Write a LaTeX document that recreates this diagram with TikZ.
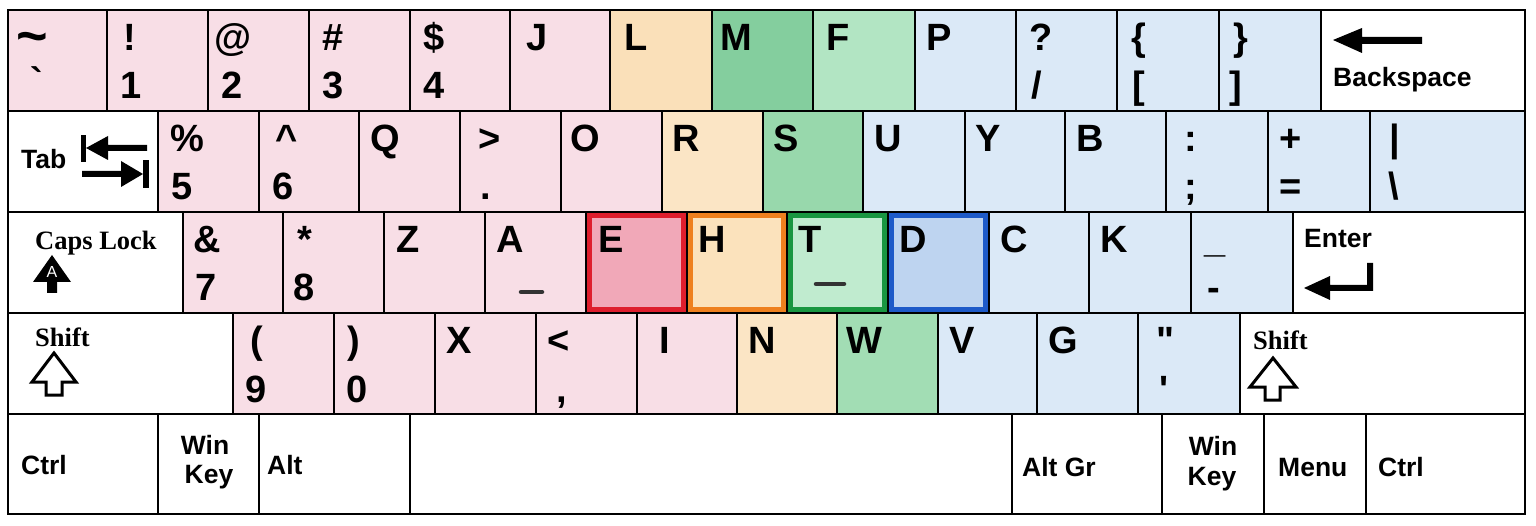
\documentclass[tikz,border=0pt]{standalone}
\usepackage{fontspec}
\setmainfont{Liberation Sans}
\newfontfamily\serifb{Liberation Serif}
\usetikzlibrary{calc}
\definecolor{pinkf}{RGB}{248,222,230}
\definecolor{Efill}{RGB}{241,168,184}
\definecolor{Eline}{RGB}{222,30,45}
\definecolor{orangef}{RGB}{251,229,197}
\definecolor{Lfill}{RGB}{250,224,185}
\definecolor{Hfill}{RGB}{251,226,188}
\definecolor{Hline}{RGB}{238,128,30}
\definecolor{greenM}{RGB}{132,206,158}
\definecolor{greenF}{RGB}{178,229,195}
\definecolor{greenS}{RGB}{152,216,172}
\definecolor{greenW}{RGB}{162,221,180}
\definecolor{Tfill}{RGB}{192,235,207}
\definecolor{Tline}{RGB}{25,150,65}
\definecolor{bluef}{RGB}{219,233,247}
\definecolor{Dfill}{RGB}{190,212,240}
\definecolor{Dline}{RGB}{30,90,200}
\tikzset{
 keybox/.style={draw=black, line width=2.2pt, inner sep=0pt, outer sep=0pt, anchor=north west},
 big/.style={font=\fontsize{38}{38}\selectfont\bfseries, inner sep=0pt, anchor=base west},
 lab/.style={font=\fontsize{26.5}{32}\selectfont\bfseries, inner sep=0pt, anchor=base west},
 slab/.style={font=\serifb\fontsize{26.5}{32}\selectfont\bfseries, inner sep=0pt, anchor=base west},
 flat/.style={inner sep=0pt, anchor=base, text height=0pt, text depth=0pt},
 homeline/.style={line width=5pt},
 bump/.style={line width=4.5pt, line cap=round, draw=black!80},
 glyph/.style={fill=black, draw=none},
 hollow/.style={draw=black, line width=3pt, line join=miter, fill=white},
}
\newcommand\kb[6]{\node[keybox, fill=#6, minimum width={(#4-#2)*1pt}, minimum height={(#5-#3)*1pt}] (#1) at (#2,#3) {};}
\newcommand\tl[3][13]{\node[big] (#2t) at ($(#2.north west)+(#1,41)$) {#3};}
\newcommand\bl[3][13]{\node[big] (#2b) at ($(#2.north west)+(#1,89)$) {#3};}
\newcommand\homebox[2]{\draw[homeline, draw=#2] ($(#1.north west)+(3.6,3.6)$) rectangle ($(#1.south east)+(-3.6,-3.6)$);}
\begin{document}
\begin{tikzpicture}[x=1pt,y=-1pt]
\useasboundingbox (0,0) rectangle (1536,526);
\fill[white] (0,0) rectangle (1536,526);
% Row 1
\kb{kgrave}{8}{10}{107}{111}{pinkf}
\kb{k1}{107}{10}{208}{111}{pinkf}
\kb{k2}{208}{10}{309}{111}{pinkf}
\kb{k3}{309}{10}{410}{111}{pinkf}
\kb{k4}{410}{10}{510}{111}{pinkf}
\kb{kJ}{510}{10}{610}{111}{pinkf}
\kb{kL}{610}{10}{712}{111}{Lfill}
\kb{kM}{712}{10}{813}{111}{greenM}
\kb{kF}{813}{10}{915}{111}{greenF}
\kb{kP}{915}{10}{1016}{111}{bluef}
\kb{kslash}{1016}{10}{1117}{111}{bluef}
\kb{klbr}{1117}{10}{1219}{111}{bluef}
\kb{krbr}{1219}{10}{1321}{111}{bluef}
\kb{kback}{1321}{10}{1525}{111}{white}
% Row 2
\kb{ktab}{8}{111}{158}{212}{white}
\kb{k5}{158}{111}{259}{212}{pinkf}
\kb{k6}{259}{111}{359}{212}{pinkf}
\kb{kQ}{359}{111}{460}{212}{pinkf}
\kb{kdot}{460}{111}{561}{212}{pinkf}
\kb{kO}{561}{111}{662}{212}{pinkf}
\kb{kR}{662}{111}{763}{212}{orangef}
\kb{kS}{763}{111}{863}{212}{greenS}
\kb{kU}{863}{111}{965}{212}{bluef}
\kb{kY}{965}{111}{1065}{212}{bluef}
\kb{kB}{1065}{111}{1166}{212}{bluef}
\kb{ksemi}{1166}{111}{1268}{212}{bluef}
\kb{keq}{1268}{111}{1370}{212}{bluef}
\kb{kbsl}{1370}{111}{1525}{212}{bluef}
% Row 3
\kb{kcaps}{8}{212}{183}{313}{white}
\kb{k7}{183}{212}{283}{313}{pinkf}
\kb{k8}{283}{212}{384}{313}{pinkf}
\kb{kZ}{384}{212}{485}{313}{pinkf}
\kb{kA}{485}{212}{586}{313}{pinkf}
\kb{kE}{586}{212}{687}{313}{Efill}
\kb{kH}{687}{212}{787}{313}{Hfill}
\kb{kT}{787}{212}{888}{313}{Tfill}
\kb{kD}{888}{212}{989}{313}{Dfill}
\kb{kC}{989}{212}{1089}{313}{bluef}
\kb{kK}{1089}{212}{1191}{313}{bluef}
\kb{kminus}{1191}{212}{1293}{313}{bluef}
\kb{kenter}{1293}{212}{1525}{313}{white}
% Row 4
\kb{kshl}{8}{313}{233}{414}{white}
\kb{k9}{233}{313}{334}{414}{pinkf}
\kb{k0}{334}{313}{435}{414}{pinkf}
\kb{kX}{435}{313}{536}{414}{pinkf}
\kb{kcomma}{536}{313}{637}{414}{pinkf}
\kb{kI}{637}{313}{737}{414}{pinkf}
\kb{kN}{737}{313}{837}{414}{orangef}
\kb{kW}{837}{313}{938}{414}{greenW}
\kb{kV}{938}{313}{1037}{414}{bluef}
\kb{kG}{1037}{313}{1138}{414}{bluef}
\kb{kquote}{1138}{313}{1240}{414}{bluef}
\kb{kshr}{1240}{313}{1525}{414}{white}
% Row 5
\kb{kctl}{8}{414}{158}{514}{white}
\kb{kwinl}{158}{414}{259}{514}{white}
\kb{kalt}{259}{414}{410}{514}{white}
\kb{kspace}{410}{414}{1012}{514}{white}
\kb{kaltgr}{1012}{414}{1162}{514}{white}
\kb{kwinr}{1162}{414}{1264}{514}{white}
\kb{kmenu}{1264}{414}{1366}{514}{white}
\kb{kctr}{1366}{414}{1525}{514}{white}
% home keys
\homebox{kE}{Eline}
\homebox{kH}{Hline}
\homebox{kT}{Tline}
\homebox{kD}{Dline}
% bumps
\draw[bump] ($(kA.north west)+(36,80)$) -- ++(21,0);
\draw[bump] ($(kT.north west)+(29,72)$) -- ++(28,0);
% Row 1 labels
\node[flat, font=\fontsize{54}{54}\selectfont\bfseries] (kgravet) at ($(kgrave.north west)+(24,45)$) {\textasciitilde};
\node[flat, font=\fontsize{38}{38}\selectfont\bfseries] (kgraveb) at ($(kgrave.north west)+(29,85)$) {\textasciigrave};
\tl[16]{k1}{!}\bl{k1}{1}
\tl[6]{k2}{@}\bl{k2}{2}
\tl{k3}{\#}\bl{k3}{3}
\tl{k4}{\$}\bl{k4}{4}
\tl[16]{kJ}{J}
\tl[14]{kL}{L}
\tl[8]{kM}{M}
\tl[13]{kF}{F}
\tl[11]{kP}{P}
\tl[13]{kslash}{?}\bl[15]{kslash}{/}
\tl[14]{klbr}{\{}\bl[15]{klbr}{[}
\tl[14]{krbr}{\}}\bl[10]{krbr}{]}
\fill[glyph] ($(kback.north west)+(12,30)$) -- ++(29,-12) -- ++(0,9) -- ++(60,0) -- ++(0,7) -- ++(-60,0) -- ++(0,9) -- cycle;
\node[lab] (kbackt) at ($(kback.north west)+(12,77)$) {Backspace};
% Row 2 labels
\node[lab] (ktabt) at ($(ktab.north west)+(13,58)$) {Tab};
\fill[glyph] ($(ktab.north west)+(73,24)$) rectangle ++(5,27);
\fill[glyph] ($(ktab.north west)+(78,37)$) -- ++(22,-12) -- ++(0,9) -- ++(39,0) -- ++(0,6) -- ++(-39,0) -- ++(0,9) -- cycle;
\fill[glyph] ($(ktab.north west)+(135,49)$) rectangle ++(6,28);
\fill[glyph] ($(ktab.north west)+(135,63)$) -- ++(-22,-13) -- ++(0,10) -- ++(-39,0) -- ++(0,6) -- ++(39,0) -- ++(0,10) -- cycle;
\tl[12]{k5}{\%}\bl[13]{k5}{5}
\tl[16]{k6}{\textasciicircum}\bl[13]{k6}{6}
\tl[11]{kQ}{Q}
\tl[18]{kdot}{>}\bl[20]{kdot}{.}
\tl[9]{kO}{O}
\tl[10]{kR}{R}
\tl[10]{kS}{S}
\tl[11]{kU}{U}
\tl[10]{kY}{Y}
\tl[11]{kB}{B}
\tl[18]{ksemi}{:}\bl[18]{ksemi}{;}
\tl[11]{keq}{+}\bl[11]{keq}{=}
\tl[19]{kbsl}{\textbar}\bl[18]{kbsl}{\textbackslash}
% Row 3 labels
\node[slab] (kcapst) at ($(kcaps.north west)+(27,38)$) {Caps Lock};
\fill[glyph] ($(kcaps.north west)+(44,43)$) -- ++(19,27) -- ++(-14,0) -- ++(0,11) -- ++(-10,0) -- ++(0,-11) -- ++(-14,0) -- cycle;
\node[font=\fontsize{16}{16}\selectfont, text=white, inner sep=0pt, anchor=base] (kcapsa) at ($(kcaps.north west)+(44,66)$) {A};
\tl[10]{k7}{\&}\bl[12]{k7}{7}
\tl[14]{k8}{*}\bl[10]{k8}{8}
\tl[12]{kZ}{Z}
\tl[11]{kA}{A}
\tl[12]{kE}{E}
\tl[11]{kH}{H}
\tl[11]{kT}{T}
\tl[11]{kD}{D}
\tl[11]{kC}{C}
\tl[11]{kK}{K}
\tl[13]{kminus}{\_}\bl[16]{kminus}{-}
\node[lab] (kentert) at ($(kenter.north west)+(11,36)$) {Enter};
\fill[glyph] ($(kenter.north west)+(11,76)$) -- ++(26,-12) -- ++(0,9) -- ++(37,0) -- ++(0,-22) -- ++(6,0) -- ++(0,28) -- ++(-43,0) -- ++(0,9) -- cycle;
% Row 4 labels
\node[slab] (kshlt) at ($(kshl.north west)+(27,34)$) {Shift};
\draw[hollow] ($(kshl.north west)+(46,40)$) -- ++(22,29) -- ++(-14,0) -- ++(0,13) -- ++(-16,0) -- ++(0,-13) -- ++(-14,0) -- cycle;
\tl[17]{k9}{(}\bl[12]{k9}{9}
\tl[13]{k0}{)}\bl[12]{k0}{0}
\tl[11]{kX}{X}
\tl[11]{kcomma}{<}\bl[20]{kcomma}{,}
\tl[22]{kI}{I}
\tl[11]{kN}{N}
\tl[9]{kW}{W}
\tl[11]{kV}{V}
\tl[11]{kG}{G}
\tl[18]{kquote}{\textquotedbl}\bl[21]{kquote}{\textquotesingle}
\node[slab] (kshrt) at ($(kshr.north west)+(13,37)$) {Shift};
\draw[hollow] ($(kshr.north west)+(33,45)$) -- ++(23,29) -- ++(-16,0) -- ++(0,13) -- ++(-15,0) -- ++(0,-13) -- ++(-15,0) -- cycle;
% Row 5 labels
\node[lab] (kctlt) at ($(kctl.north west)+(13,60)$) {Ctrl};
\node[lab, anchor=base] (kwinlt) at ($(kwinl.north west)+(47,40)$) {Win};
\node[lab, anchor=base] (kwinlb) at ($(kwinl.north west)+(51,69)$) {Key};
\node[lab] (kaltt) at ($(kalt.north west)+(8,60)$) {Alt};
\node[lab] (kaltgrt) at ($(kaltgr.north west)+(10,62)$) {Alt Gr};
\node[lab, anchor=base] (kwinrt) at ($(kwinr.north west)+(51,41)$) {Win};
\node[lab, anchor=base] (kwinrb) at ($(kwinr.north west)+(50,71)$) {Key};
\node[lab] (kmenut) at ($(kmenu.north west)+(14,62)$) {Menu};
\node[lab] (kctrt) at ($(kctr.north west)+(12,62)$) {Ctrl};
\end{tikzpicture}
\end{document}
